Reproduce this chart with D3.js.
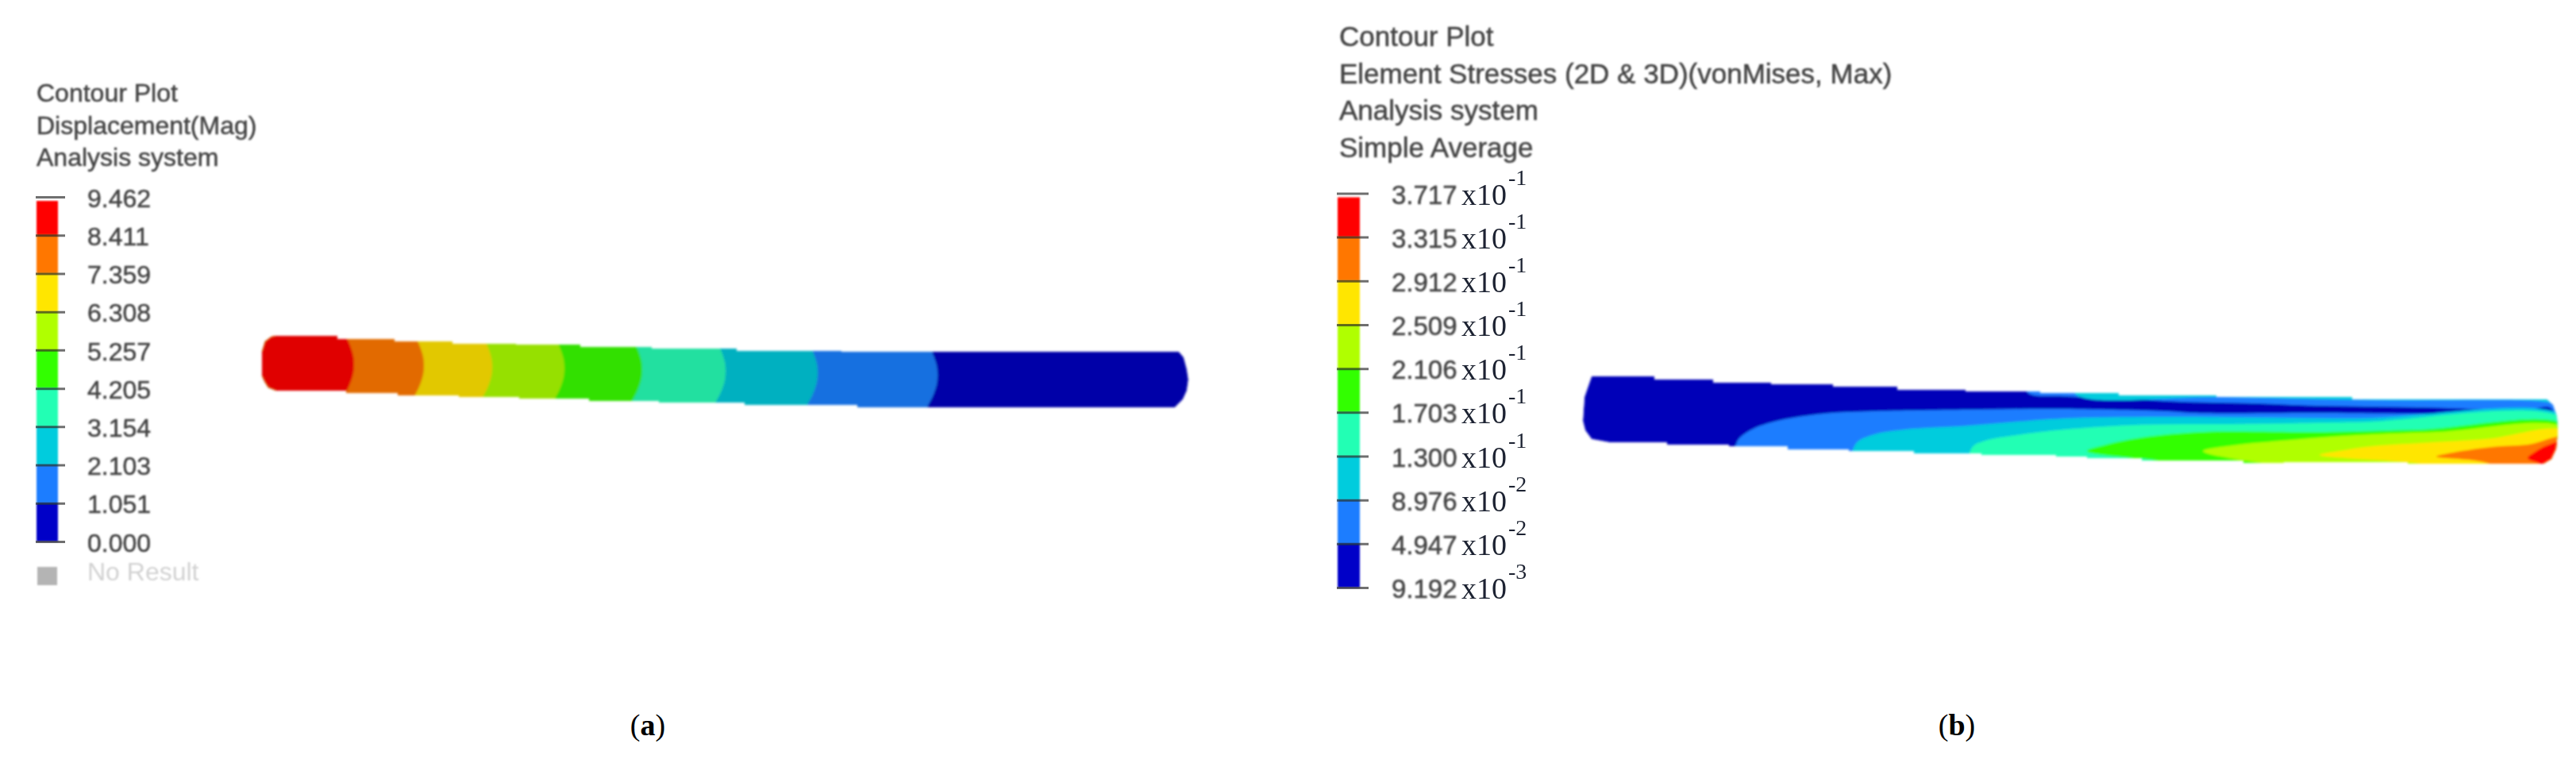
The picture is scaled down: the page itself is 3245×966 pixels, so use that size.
<!DOCTYPE html>
<html>
<head>
<meta charset="utf-8">
<script src="https://cdn.jsdelivr.net/npm/d3@7"></script>
<style>
  body { margin: 0; background: #fff; }
  text { font-family: "Liberation Sans", Arial, sans-serif; fill: #444; stroke: #444; stroke-width: 0.5px; }
  .serif { font-family: "Liberation Serif", "Times New Roman", serif; fill: #1c2230; stroke: none; }
  .caption { font-family: "Liberation Serif", "Times New Roman", serif; fill: #000; stroke: none; font-size: 38px; }
</style>
</head>
<body>
<div id="chart"></div>
<script>
// ---- panel a, displacement
var titleA = ['Contour Plot', 'Displacement(Mag)', 'Analysis system']
var levelsA = [0.000, 1.051, 2.103, 3.154, 4.205, 5.257, 6.308, 7.359, 8.411, 9.462]
var labelsA = ['0.000', '1.051', '2.103', '3.154', '4.205', '5.257', '6.308', '7.359', '8.411', '9.462']

// ---- panel b, von Mises stress
var titleB = ['Contour Plot', 'Element Stresses (2D & 3D)(vonMises, Max)', 'Analysis system', 'Simple Average']
var levelsB = [0.009192, 0.04947, 0.08976, 0.1300, 0.1703, 0.2106, 0.2509, 0.2912, 0.3315, 0.3717]
var mantissaB = ['9.192', '4.947', '8.976', '1.300', '1.703', '2.106', '2.509', '2.912', '3.315', '3.717']
var exponentB = ['-3', '-2', '-2', '-1', '-1', '-1', '-1', '-1', '-1', '-1']

// colour bands, low to high
var legendColors = ['#0000c8', '#1a7dff', '#00ccdd', '#22ffb4', '#33ff00', '#b0ff00', '#ffe600', '#ff7700', '#ff0000']
var rodColorsA = ['#0000a8', '#1470e0', '#00b0c0', '#20e0a0', '#30e000', '#96e000', '#e2c800', '#e26a00', '#e00000']

// rod a: [station along the rod, lateral]
var rodOutlineA = [[0,43],[4,30],[12,24],[18,23],[95,23],[95,27],[167,27],[167,30],[240,30],[240,33],[320,33],[320,34],
  [401,34],[401,37],[491,37],[491,39],[598,39],[598,42],[730,42],[730,43],[1155,43],[1161,50],[1165,65],[1167,78],
  [1165,92],[1160,103],[1150,113],[750,113],[750,110],[608,110],[608,107],[500,107],[500,105],[412,105],[412,102],
  [324,102],[324,100],[248,100],[248,98],[171,98],[171,95],[106,95],[106,92],[18,92],[8,88],[3,80],[0,73]]
// where each colour hands over to the next one on the rod axis, high end of the scale first
var bandEdgesA = [116, 204, 290, 381, 479, 584, 700, 851]
// shape of a band edge across the rod: [part of the half width, set back from the axis]
var edgeBow = [[-1.1,14],[-0.7,6],[-0.3,1],[0,0],[0.3,1],[0.7,6],[1.1,14]]
var axisLateralA = [[0,57],[1167,78]]

// rod b, same kind of reading
var rodOutlineB = [[0,60],[2,30],[11,4],[90,4],[90,8],[164,8],[164,12],[237,12],[237,14],[315,14],[315,17],[396,17],
  [396,21],[482,21],[482,23],[576,23],[576,25],[675,25],[675,28],[798,28],[798,30],[969,30],[969,33],[1214,33],
  [1222,40],[1227,55],[1228,75],[1226,95],[1220,108],[1210,114],[1124,114],[1039,114],[1039,112],[883,112],[883,113],
  [832,113],[832,110],[704,110],[704,107],[635,107],[635,105],[596,105],[596,103],[502,103],[502,101],[417,101],
  [417,98],[335,98],[335,96],[258,96],[258,92],[184,92],[184,90],[106,90],[106,87],[33,87],[11,83],[3,72],[0,60]]

// filled contours of panel b, one per level above the base colour, low to high
var contourBlue = [[194,87],[209,73],[241,61],[303,51],[364,48],[486,46],[606,45],[737,48],[769,50],[933,50],[1055,51],
  [1186,52],[1218,52],[1240,60],[1240,130],[194,130]]
var contourBlueTop = [[560,24],[606,29],[667,31],[753,36],[843,38],[924,41],[1051,43],[1190,46],[1218,43],[1228,55],[1240,40],[1240,0],[560,0]]
var contourCyanTop = [[620,26],[800,30],[1000,34],[1212,36],[1240,42],[1240,0],[620,0]]
var contourCyan = [[343,90],[364,78],[405,71],[486,66],[547,61],[606,57],[728,55],[973,57],[1240,57],[1240,130],[343,130]]
var contourTeal = [[490,94],[507,85],[547,78],[606,71],[704,65],[839,64],[973,62],[1240,60],[1240,130],[490,130]]
var contourGreen = [[635,98],[659,90],[704,81],[781,74],[933,74],[1055,71],[1240,67],[1240,130],[706,108]]
var contourLime = [[781,98],[818,91],[892,84],[973,78],[1075,74],[1240,71],[1240,130],[834,110]]
var contourYellow = [[928,103],[953,98],[994,92],[1055,88],[1137,83],[1240,74],[1240,130],[1039,112]]
var contourOrange = [[1075,105],[1096,100],[1145,93],[1190,90],[1240,81],[1240,130],[1124,110]]
var contourRed = [[1190,107],[1198,100],[1214,91],[1240,86],[1240,130],[1206,114]]
var contoursB = [
  { level: 1, points: contourBlue },
  { level: 1, points: contourBlueTop },
  { level: 2, points: contourCyanTop },
  { level: 2, points: contourCyan },
  { level: 3, points: contourTeal },
  { level: 4, points: contourGreen },
  { level: 5, points: contourLime },
  { level: 6, points: contourYellow },
  { level: 7, points: contourOrange },
  { level: 8, points: contourRed }
]

var captions = [
  { a: '(', b: 'a', c: ')', x: 816 },
  { a: '(', b: 'b', c: ')', x: 2465 }
]

var svg = d3.select('#chart').append('svg')
  .attr('width', 3245)
  .attr('height', 966)

var defs = svg.append('defs')
function add_blur(id, amount){
  defs.append('filter').attr('id', id)
    .attr('x', '-5%').attr('y', '-20%').attr('width', '110%').attr('height', '140%')
    .append('feGaussianBlur').attr('stdDeviation', amount)
}
add_blur('blurText', 1.1)
add_blur('blurLabel', 1.0)
add_blur('blurSerif', 0.4)
add_blur('blurRod', 1.4)

function draw_title(lines, x, baselines, size){
  svg.append('g').attr('filter', 'url(#blurText)')
    .selectAll('text').data(lines).join('text')
    .attr('x', x)
    .attr('y', function(d, i){ return baselines(i) })
    .attr('font-size', size)
    .text(function(d){ return d })
}

function draw_legend(levels, names, yScale, x, barWidth, tickLength, padding, size){
  var barX = d3.scaleLinear().domain([0, 1]).range([x, x + barWidth])
  var g = svg.append('g')

  g.append('g').attr('filter', 'url(#blurLabel)')
    .selectAll('rect').data(legendColors).join('rect')
    .attr('x', barX(0))
    .attr('width', barX(1) - barX(0))
    .attr('y', function(d, i){ return yScale(levels[i + 1]) + (i == 8 ? 5 : 0) })
    .attr('height', function(d, i){ return yScale(levels[i]) - yScale(levels[i + 1]) - (i == 8 ? 5 : 0) })
    .attr('fill', function(d){ return d })

  var axis = d3.axisRight(yScale)
    .tickValues(levels)
    .tickSize(tickLength)
    .tickPadding(padding)
    .tickFormat(function(d, i){ return names[i] })

  var ax = g.append('g')
    .attr('transform', 'translate(' + (x - 1) + ',0)')
    .call(axis)
  ax.select('.domain').remove()
  ax.selectAll('line').attr('stroke', '#222').attr('stroke-width', 3).attr('stroke-opacity', 0.65)
  ax.selectAll('text')
    .attr('font-family', '"Liberation Sans", Arial, sans-serif')
    .attr('font-size', size)
    .attr('dy', '0.38em')
    .attr('filter', 'url(#blurLabel)')
  return ax
}

// ---- panel a
draw_title(titleA, 46, d3.scaleLinear().domain([0, 2]).range([128, 209]), 32)

var yA = d3.scaleLinear().domain([levelsA[0], levelsA[9]]).range([682, 248])
draw_legend(levelsA, labelsA, yA, 46, 27, 37, 28, 32)

var noResult = svg.append('g').attr('filter', 'url(#blurLabel)')
noResult.append('rect').attr('x', 47).attr('y', 714).attr('width', 25).attr('height', 23).attr('fill', '#b4b4b4')
noResult.append('text').attr('x', 110).attr('y', 731).attr('font-size', 32).style('fill', '#d2d2d2').style('stroke', 'none').text('No Result')

var rodXA = d3.scaleLinear().domain([0, 1167]).range([330, 1497])
var rodYA = d3.scaleLinear().domain([0, 130]).range([400, 530])
var axisA = d3.scaleLinear().domain([axisLateralA[0][0], axisLateralA[1][0]]).range([axisLateralA[0][1], axisLateralA[1][1]])

var outlineA = d3.line()
  .x(function(d){ return rodXA(d[0]) })
  .y(function(d){ return rodYA(d[1]) })
  .curve(d3.curveLinearClosed)

defs.append('clipPath').attr('id', 'clipRodA').append('path').attr('d', outlineA(rodOutlineA))

var rodA = svg.append('g').attr('filter', 'url(#blurRod)').append('g').attr('clip-path', 'url(#clipRodA)')
rodA.append('path').attr('d', outlineA(rodOutlineA)).attr('fill', rodColorsA[0])

var edgeLine = d3.line()
  .x(function(d){ return d[0] })
  .y(function(d){ return d[1] })
  .curve(d3.curveCatmullRom)

// painted from the fixed end back to the tip, each one covers what is behind it
rodA.selectAll('path.band').data(bandEdgesA.slice().reverse()).join('path')
  .attr('class', 'band')
  .attr('fill', function(d, i){ return rodColorsA[i + 1] })
  .attr('d', function(edge){
    var pts = edgeBow.map(function(b){
      return [rodXA(edge - b[1]), rodYA(axisA(edge) + b[0] * 38)]
    })
    return edgeLine(pts) + 'L' + rodXA(-5) + ',' + pts[pts.length - 1][1] + 'L' + rodXA(-5) + ',' + pts[0][1] + 'Z'
  })

// ---- panel b
draw_title(titleB, 1687, d3.scaleLinear().domain([0, 3]).range([58, 198]), 35)

var yB = d3.scaleLinear().domain([levelsB[0], levelsB[9]]).range([740, 243.5])
draw_legend(levelsB, mantissaB, yB, 1685, 28, 40, 29, 33)

var multiplier = svg.append('g').attr('filter', 'url(#blurSerif)')
multiplier.selectAll('text.times').data(levelsB).join('text')
  .attr('class', 'times serif')
  .attr('x', 1841)
  .attr('y', function(d){ return yB(d) + 14 })
  .attr('font-size', 38)
  .text('x10')
multiplier.selectAll('text.exp').data(levelsB).join('text')
  .attr('class', 'exp serif')
  .attr('x', 1900)
  .attr('y', function(d){ return yB(d) - 11 })
  .attr('font-size', 28)
  .text(function(d, i){ return exponentB[i] })

var rodXB = d3.scaleLinear().domain([0, 1228]).range([1994, 3222])
var rodYB = d3.scaleLinear().domain([0, 130]).range([470, 600])

var outlineB = d3.line()
  .x(function(d){ return rodXB(d[0]) })
  .y(function(d){ return rodYB(d[1]) })
  .curve(d3.curveLinearClosed)

var contourLine = d3.line()
  .x(function(d){ return rodXB(d[0]) })
  .y(function(d){ return rodYB(d[1]) })
  .curve(d3.curveCatmullRomClosed.alpha(0.5))

defs.append('clipPath').attr('id', 'clipRodB').append('path').attr('d', outlineB(rodOutlineB))

var rodB = svg.append('g').attr('filter', 'url(#blurRod)').append('g').attr('clip-path', 'url(#clipRodB)')
rodB.append('path').attr('d', outlineB(rodOutlineB)).attr('fill', '#0000b8')
rodB.selectAll('path.contour').data(contoursB).join('path')
  .attr('class', 'contour')
  .attr('d', function(d){ return contourLine(d.points) })
  .attr('fill', function(d){ return legendColors[d.level] })

// ---- captions
var cap = svg.selectAll('text.caption').data(captions).join('text')
  .attr('class', 'caption')
  .attr('x', function(d){ return d.x })
  .attr('y', 926)
  .attr('text-anchor', 'middle')
cap.append('tspan').text(function(d){ return d.a })
cap.append('tspan').attr('font-weight', 'bold').text(function(d){ return d.b })
cap.append('tspan').text(function(d){ return d.c })
</script>
</body>
</html>
